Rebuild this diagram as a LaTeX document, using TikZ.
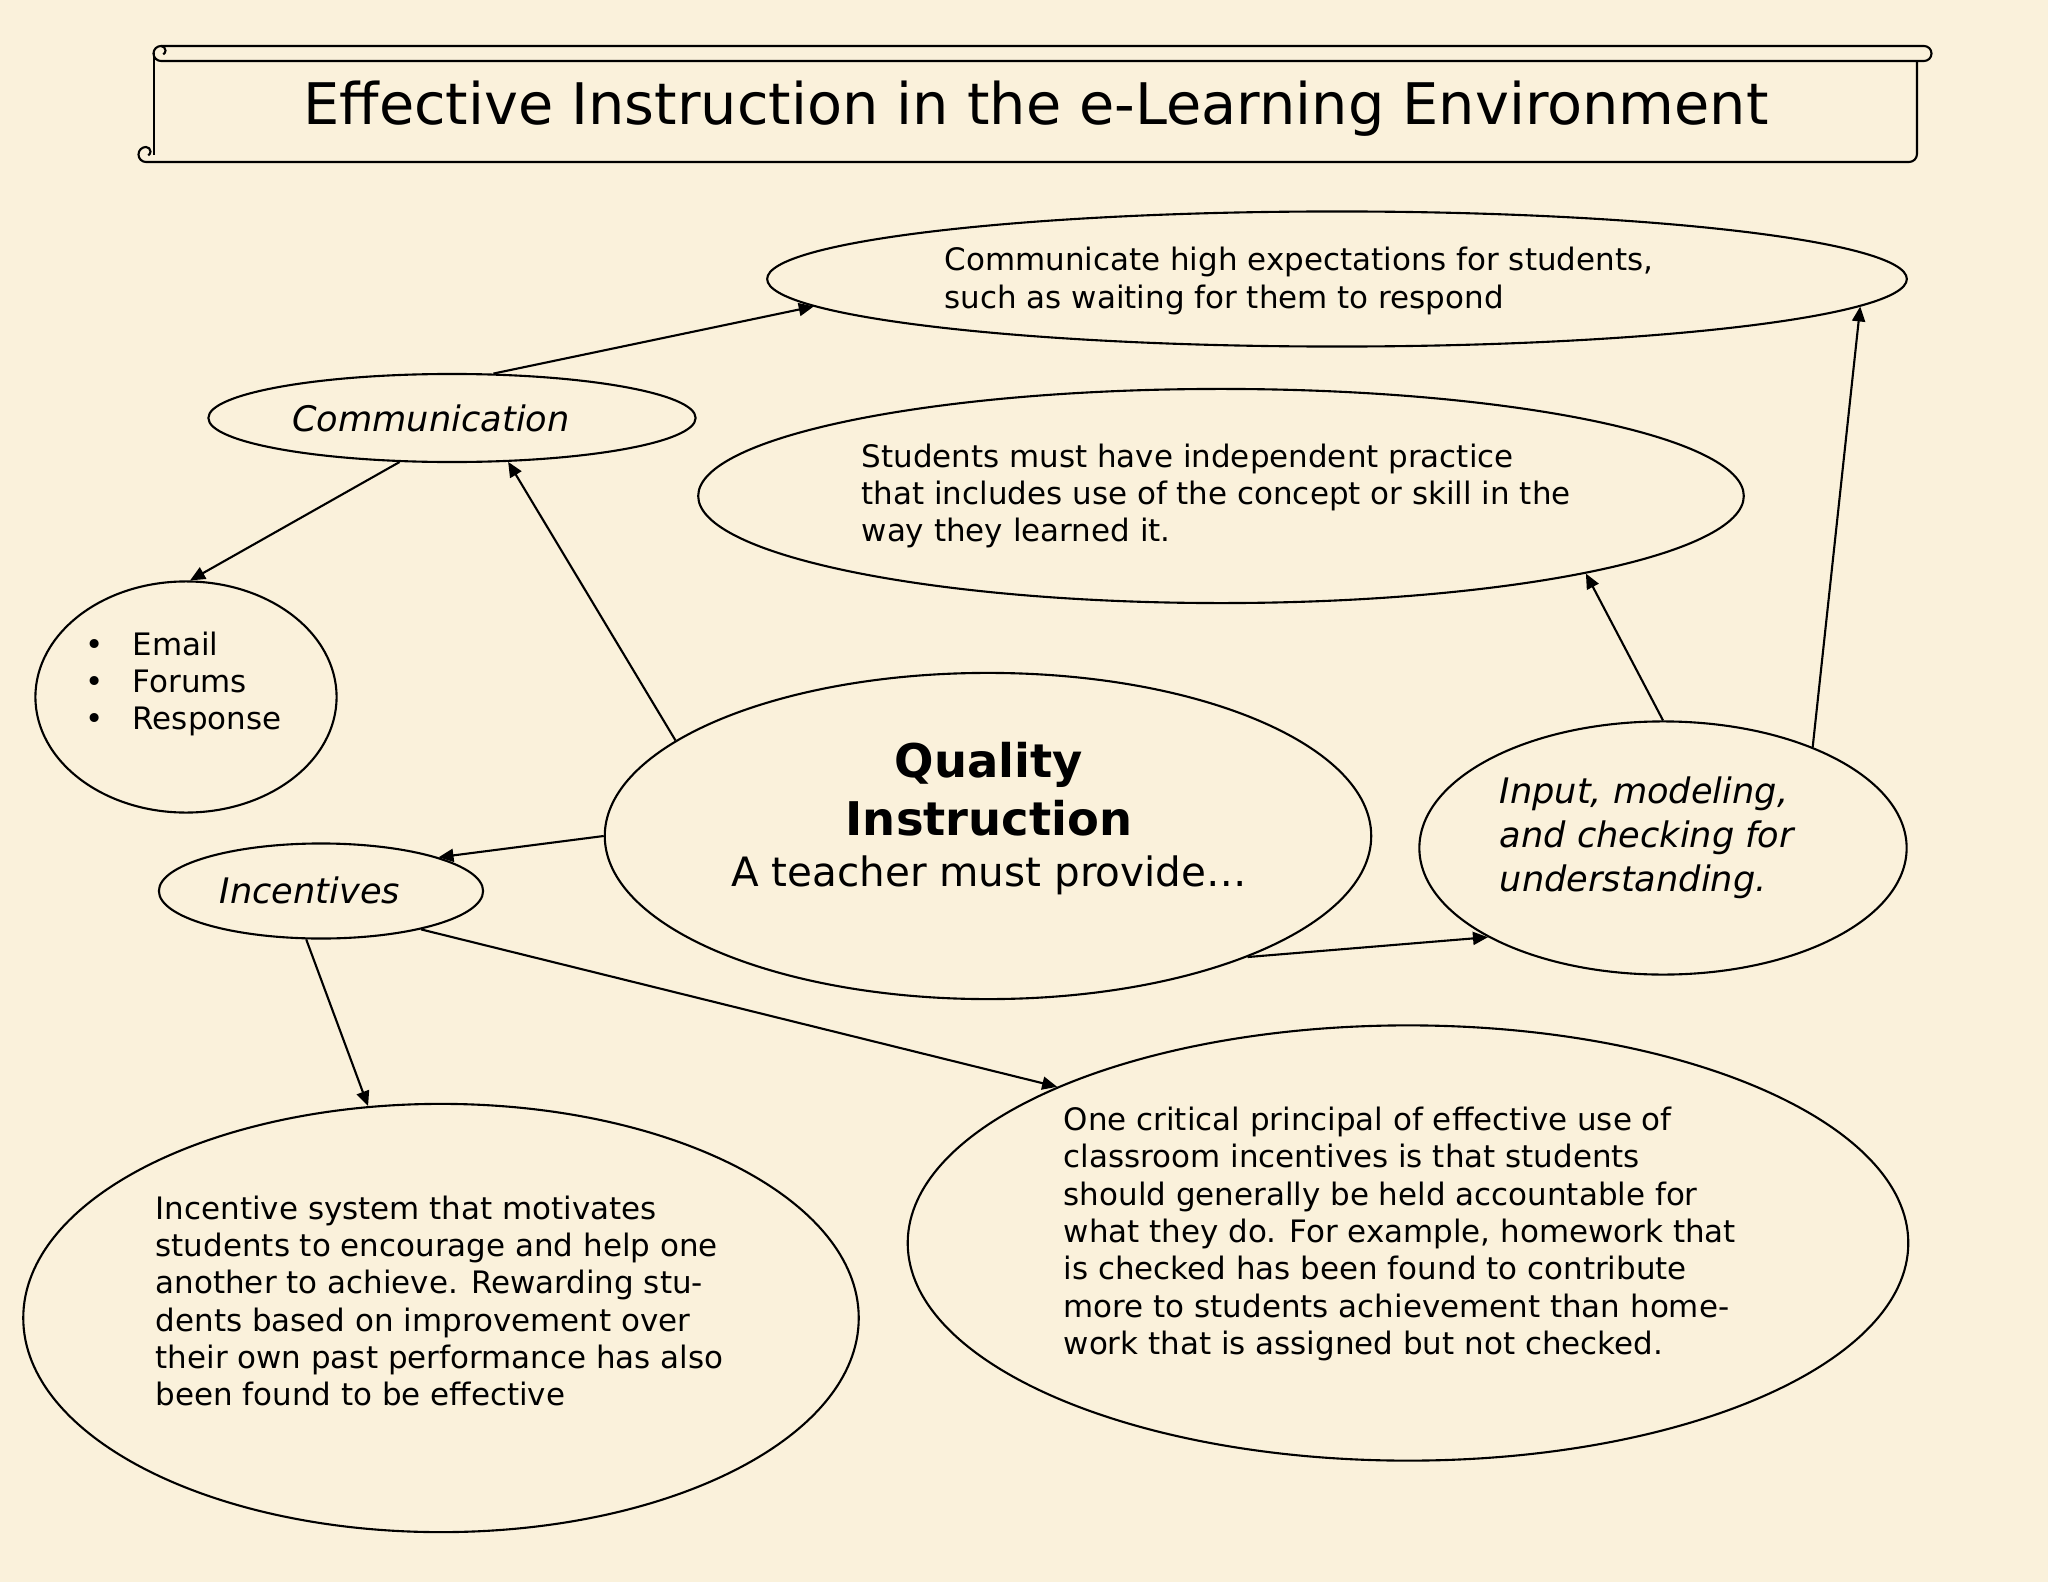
\documentclass[tikz,border=0pt]{standalone}
\usepackage{fontspec}
\setmainfont{DejaVu Sans}
\usepackage{xcolor}
\usetikzlibrary{arrows.meta}
\usetikzlibrary{shapes.geometric}

\definecolor{paper}{RGB}{250,241,219}

\tikzset{
  oval/.style={ellipse, draw=black, line width=0.6pt, inner sep=0pt},
  body/.style={align=left, inner sep=0pt, anchor=west, font=\fontsize{8.8}{10.6}\selectfont},
  topic/.style={inner sep=0pt, font=\itshape\fontsize{10}{12.5}\selectfont},
  link/.style={-{Triangle[length=0.15cm,width=0.13cm]}, line width=0.6pt},
}

\begin{document}
\begin{tikzpicture}[x=0.01cm,y=-0.01cm]
        % Fondo
        \useasboundingbox (0,0) rectangle (2048,1582);
        \fill[paper] (0,0) rectangle (2048,1582);

        % Pergamino del titulo
        \draw[line width=0.6pt] (161,46) -- (1924,46) arc[start angle=90,end angle=-90,radius=0.075cm] -- (161,61);
        \draw[line width=0.6pt] (161,61) arc[start angle=-90,end angle=-270,radius=0.075cm]
          arc[start angle=90,end angle=-60,radius=0.045cm];
        \draw[line width=0.6pt] (154,53.5) -- (154,155);
        \draw[line width=0.6pt] (146,162) arc[start angle=-90,end angle=-270,radius=0.075cm]
          arc[start angle=90,end angle=-60,radius=0.045cm];
        \draw[line width=0.6pt, rounded corners=0.08cm] (146,162) -- (1917,162) -- (1917,61);
        \node[inner sep=0pt, font=\fontsize{16.3}{19}\selectfont] (title) at (1036,109)
          {Effective Instruction in the e-Learning Environment};

        % Elipses
        \node[oval, minimum width=11.39cm, minimum height=1.35cm] (expect) at (1337,279) {};
        \node[oval, minimum width=4.87cm, minimum height=0.88cm] (comm) at (452,418) {};
        \node[oval, minimum width=10.45cm, minimum height=2.14cm] (practice) at (1221,496) {};
        \node[oval, minimum width=3.01cm, minimum height=2.31cm] (tools) at (186,697) {};
        \node[oval, minimum width=7.66cm, minimum height=3.26cm] (quality) at (988,836) {};
        \node[oval, minimum width=3.24cm, minimum height=0.95cm] (incent) at (321,891) {};
        \node[oval, minimum width=4.87cm, minimum height=2.53cm] (input) at (1663,848) {};
        \node[oval, minimum width=8.35cm, minimum height=4.28cm] (system) at (441,1318) {};
        \node[oval, minimum width=10.00cm, minimum height=4.35cm] (account) at (1408,1243) {};

        % Textos
        \node[body] (expectTxt) at (944,281)
          {Communicate high expectations for students,\\such as waiting for them to respond};
        \node[topic] (commTxt) at (431,418) {Communication};
        \node[body] (practiceTxt) at (861,496)
          {Students must have independent practice\\that includes use of the concept or skill in the\\way they learned it.};
        \node[body] (toolsTxt) at (85,684)
          {\makebox[0.47cm][l]{\textbullet}Email\\\makebox[0.47cm][l]{\textbullet}Forums\\\makebox[0.47cm][l]{\textbullet}Response};
        \node[align=center, inner sep=0pt, font=\bfseries\fontsize{13.2}{16.5}\selectfont] (qualityTxt) at (989,819)
          {Quality\\Instruction\\[-2pt]{\mdseries\fontsize{11.5}{14}\selectfont A teacher must provide\ldots}};
        \node[topic] (incentTxt) at (310,890) {Incentives};
        \node[topic, align=left, anchor=west] (inputTxt) at (1499,838)
          {Input, modeling,\\and checking for\\understanding.};
        \node[body] (systemTxt) at (155,1301)
          {Incentive system that motivates\\students to encourage and help one\\another to achieve. Rewarding stu-\\dents based on improvement over\\their own past performance has also\\been found to be effective};
        \node[body] (accountTxt) at (1063,1234)
          {One critical principal of effective use of\\classroom incentives is that students\\should generally be held accountable for\\what they do. For example, homework that\\is checked has been found to contribute\\more to students achievement than home-\\work that is assigned but not checked.};

        % Conexiones
        \draw[link] (comm.47) -- (expect.183.6);
        \draw[link] (comm.220.6) -- (tools.88);
        \draw[link] (quality.163.7) -- (comm.322);
        \draw[link] (quality.west) -- (incent.16.8);
        \draw[link] (quality.335.9) -- (input.207.1);
        \draw[link] (input.north) -- (practice.348);
        \draw[link] (input.34.4) -- (expect.357.4);
        \draw[link] (incent.253.3) -- (system.109);
        \draw[link] (incent.339) -- (account.156.3);
    \end{tikzpicture}
\end{document}
